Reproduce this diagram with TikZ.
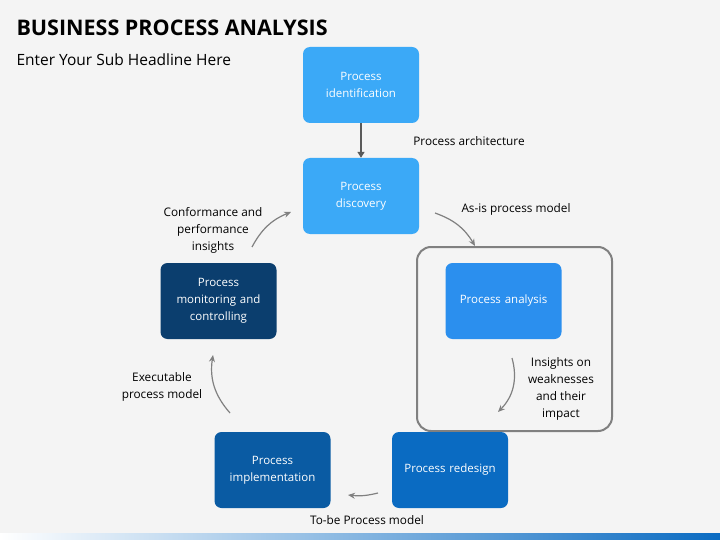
\documentclass[tikz,border=0pt]{standalone}
\usepackage{fontspec}
\setmainfont{Open Sans}
\usetikzlibrary{arrows.meta}
\definecolor{bg}{HTML}{F4F4F4}
\definecolor{c1}{HTML}{3BA9F7}
\definecolor{c2}{HTML}{2B8FEE}
\definecolor{c3}{HTML}{0A6BC2}
\definecolor{c4}{HTML}{0A5BA3}
\definecolor{c5}{HTML}{0B3E6E}
\definecolor{arr}{HTML}{808080}
\tikzset{
  pbox/.style={rounded corners=7pt, minimum width=116pt, minimum height=76pt, text width=108pt, align=center, text=white, font=\fontsize{11.5}{17}\selectfont, inner sep=0pt},
  lbl/.style={align=center, font=\fontsize{11.8}{17}\selectfont, text=black},
  carr/.style={draw=arr, line width=1.2pt, -{Stealth[length=7pt,width=6pt]}}
}
\begin{document}
\begin{tikzpicture}[x=1pt,y=-1pt]
\fill[bg] (0,0) rectangle (720,540);
\useasboundingbox (0,0) rectangle (720,540);
\shade[left color=white, right color=c3] (0,533) rectangle (720,540);
\node[anchor=west, font=\bfseries\fontsize{21.5}{24}\selectfont] (title) at (13,28) {BUSINESS PROCESS ANALYSIS};
\node[anchor=west, font=\fontsize{15.5}{18}\selectfont] (sub) at (13,60) {Enter Your Sub Headline Here};
\draw[arr, line width=2pt, rounded corners=14pt] (417,247) rectangle (612,431);
\node[pbox, fill=c1] (pi) at (361,85) {Process\\identification};
\node[pbox, fill=c1] (pd) at (361,196) {Process\\discovery};
\node[pbox, fill=c2] (pa) at (503.5,301) {Process analysis};
\node[pbox, fill=c3] (pr) at (450,470) {Process redesign};
\node[pbox, fill=c4] (pm) at (272.5,470) {Process\\implementation};
\node[pbox, fill=c5] (pc) at (218.5,301) {Process\\monitoring and\\controlling};
\draw[draw=arr!70!black, line width=2pt, -{Triangle[length=6pt,width=7pt]}] (pi) -- (pd);
\coordinate (a1) at (435,213); \coordinate (a2) at (475,246);
\draw[carr] (a1) to[bend left=20] (a2);
\coordinate (b1) at (512,358); \coordinate (b2) at (498,412);
\draw[carr] (b1) to[bend left=30] (b2);
\coordinate (c1p) at (378,493); \coordinate (c2p) at (348,495);
\draw[carr] (c1p) to[bend left=10] (c2p);
\coordinate (d1) at (230,413); \coordinate (d2) at (213,355);
\draw[carr] (d1) to[bend left=25] (d2);
\coordinate (e1) at (252,247); \coordinate (e2) at (291,212);
\draw[carr] (e1) to[bend left=20] (e2);
\node[lbl] (l1) at (469,141) {Process architecture};
\node[lbl] (l2) at (516,209) {As-is process model};
\node[lbl] (l3) at (561,389) {Insights on\\weaknesses\\and their\\impact};
\node[lbl] (l4) at (367,520) {To-be Process model};
\node[lbl] (l5) at (162,387) {Executable\\process model};
\node[lbl] (l6) at (213,230) {Conformance and\\performance\\insights};
\end{tikzpicture}
\end{document}
